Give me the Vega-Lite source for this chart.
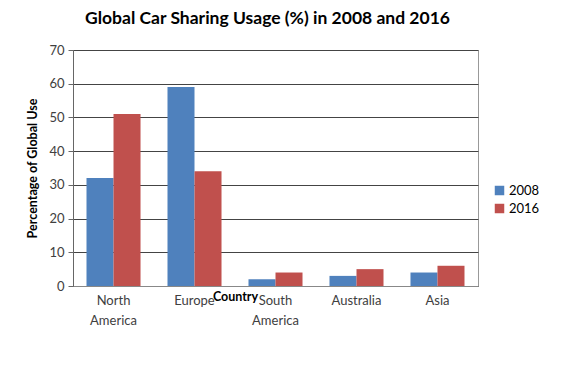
{
  "$schema": "https://vega.github.io/schema/vega-lite/v6.json",
  "width": 405,
  "height": 236,
  "autosize": {"type": "none"},
  "padding": {"left": 73, "top": 50, "right": 90, "bottom": 96},
  "background": "white",
  "title": {
    "text": "Global Car Sharing Usage (%) in 2008 and 2016",
    "font": "Lato",
    "fontSize": 17.5,
    "fontWeight": "bold",
    "color": "#000000",
    "anchor": "middle",
    "dx": -8,
    "offset": 17
  },
  "data": {
    "values": [
      {"country": "North America", "year": "2008", "value": 32},
      {"country": "North America", "year": "2016", "value": 51},
      {"country": "Europe", "year": "2008", "value": 59},
      {"country": "Europe", "year": "2016", "value": 34},
      {"country": "South America", "year": "2008", "value": 2},
      {"country": "South America", "year": "2016", "value": 4},
      {"country": "Australia", "year": "2008", "value": 3},
      {"country": "Australia", "year": "2016", "value": 5},
      {"country": "Asia", "year": "2008", "value": 4},
      {"country": "Asia", "year": "2016", "value": 6}
    ]
  },
  "mark": {"type": "bar"},
  "encoding": {
    "x": {
      "field": "country",
      "type": "nominal",
      "sort": ["North America", "Europe", "South America", "Australia", "Asia"],
      "scale": {"paddingInner": 0.333, "paddingOuter": 0.1667},
      "axis": {
        "title": "Country",
        "titleFont": "Lato",
        "titleFontSize": 12.5,
        "titleFontWeight": "bold",
        "titleColor": "#000000",
        "titleX": 162,
        "titleY": 4,
        "labelAngle": 0,
        "labelExpr": "split(datum.label, ' ')",
        "labelFont": "Lato",
        "labelFontSize": 13,
        "labelColor": "#404040",
        "labelPadding": 8,
        "labelLineHeight": 20,
        "ticks": false,
        "domainColor": "#888888"
      }
    },
    "xOffset": {"field": "year", "type": "nominal", "scale": {"paddingInner": 0}},
    "y": {
      "field": "value",
      "type": "quantitative",
      "scale": {"domain": [0, 70]},
      "axis": {
        "title": "Percentage of Global Use",
        "titleFont": "Lato",
        "titleFontSize": 12.5,
        "titleFontWeight": "bold",
        "titleColor": "#000000",
        "titlePadding": 9,
        "values": [0, 10, 20, 30, 40, 50, 60, 70],
        "labelFont": "Lato",
        "labelFontSize": 13,
        "labelColor": "#404040",
        "labelPadding": 4,
        "tickSize": 5,
        "tickColor": "#666666",
        "domainColor": "#666666",
        "grid": true,
        "gridColor": "#444444",
        "gridWidth": 1
      }
    },
    "color": {
      "field": "year",
      "type": "nominal",
      "scale": {"domain": ["2008", "2016"], "range": ["#4F81BD", "#C0504D"]},
      "legend": {
        "title": null,
        "orient": "none",
        "legendX": 420,
        "legendY": 134,
        "symbolType": "square",
        "symbolSize": 90,
        "symbolStrokeWidth": 0,
        "labelFont": "Lato",
        "labelFontSize": 13,
        "labelColor": "#000000",
        "labelOffset": 3,
        "rowPadding": 4
      }
    }
  },
  "config": {
    "view": {"stroke": "#999999", "strokeWidth": 1}
  }
}
